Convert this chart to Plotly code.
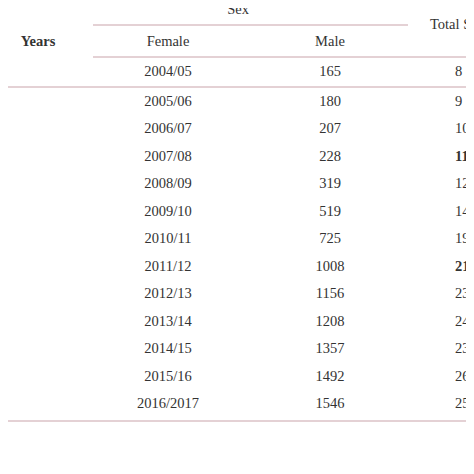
import plotly.graph_objects as go

years = ["2004/05", "2005/06", "2006/07", "2007/08", "2008/09", "2009/10", "2010/11",
         "2011/12", "2012/13", "2013/14", "2014/15", "2015/16", "2016/2017"]
male = [165, 180, 207, 228, 319, 519, 725, 1008, 1156, 1208, 1357, 1492, 1546]
total_visible = ["8", "9", "10", "<b>11</b>", "12", "14", "19", "<b>21</b>", "23", "24", "23", "26", "25"]

# row centres in pixels (top row sits above the separator)
row_y = [72] + [102 + i * 27.5 for i in range(12)]

font = dict(family="Liberation Serif", size=14.5, color="#333333")
fig = go.Figure()
fig.add_trace(go.Scatter(x=[168] * len(years), y=row_y, text=years, mode="text",
                         textfont=font, hoverinfo="skip"))
fig.add_trace(go.Scatter(x=[330] * len(male), y=row_y, text=[str(v) for v in male], mode="text",
                         textfont=font, hoverinfo="skip"))
fig.add_trace(go.Scatter(x=[455] * len(total_visible), y=row_y, text=total_visible, mode="text",
                         textposition="middle right", textfont=font, hoverinfo="skip"))

# headers
fig.add_trace(go.Scatter(x=[238, 168, 330, 38], y=[10, 42, 42, 42],
                         text=["Sex", "Female", "Male", "<b>Years</b>"], mode="text",
                         textfont=font, hoverinfo="skip"))
fig.add_trace(go.Scatter(x=[430], y=[25], text=["Total S"], mode="text",
                         textposition="middle right", textfont=font, hoverinfo="skip"))
fig.add_trace(go.Scatter(x=[-2], y=[436], text=["[28]."], mode="text",
                         textposition="middle right",
                         textfont=dict(family="Liberation Serif", size=14.5, color="#c0505a"),
                         hoverinfo="skip"))
for tr in fig.data:
    tr.cliponaxis = False

line = dict(color="#c9a3aa", width=1)
for x0, x1, y in [(93, 408, 25), (93, 474, 57), (0, 474, 87), (0, 474, 421)]:
    fig.add_shape(type="line", x0=x0, x1=x1, y0=y, y1=y, line=line)

fig.update_layout(width=458, height=458, margin=dict(l=0, r=0, t=0, b=0),
                  paper_bgcolor="white", plot_bgcolor="white", showlegend=False,
                  xaxis=dict(range=[8, 466], visible=False, fixedrange=True),
                  yaxis=dict(range=[466, 8], visible=False, fixedrange=True))
fig.write_html("out.html")
